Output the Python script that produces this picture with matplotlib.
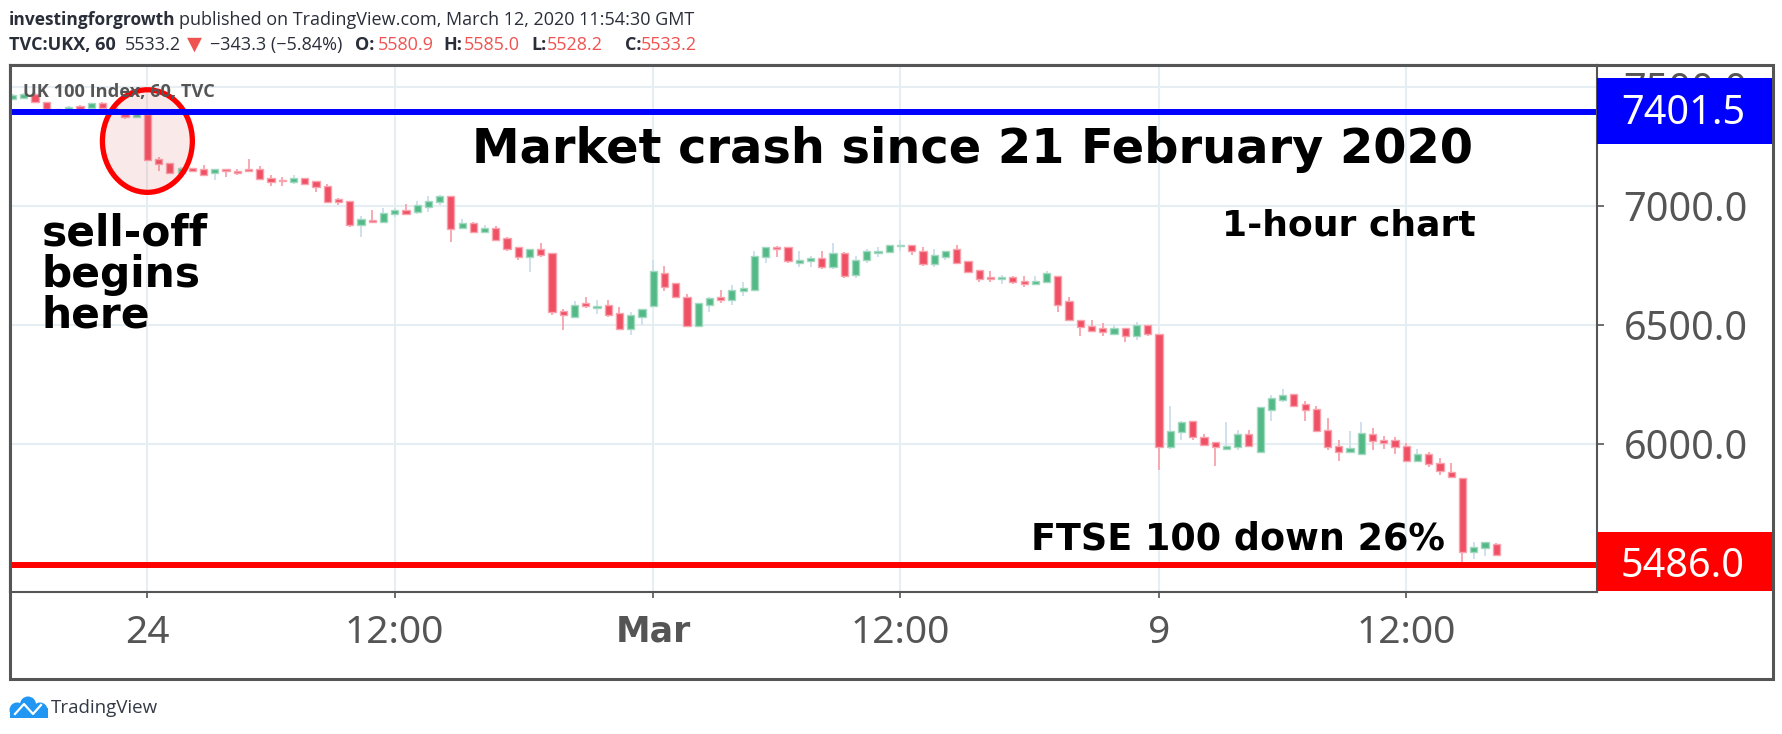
import matplotlib
matplotlib.use("Agg")
import matplotlib.pyplot as plt
from matplotlib.patches import Ellipse, Rectangle, Circle
import numpy as np

# ---- hourly candles, oldest first ----
opens = [7450,7455,7471,7436,7405,7405,7419,7410,7433,7410,
         7384,7374,7384,7196,7178,7137,7158,7154,7136,7154,
         7147,7154,7153,7116,7109,7098,7116,7104,7084,7028,
         7021,6920,6940,6934,6965,6983,6972,6997,7015,7041,
         6908,6927,6889,6908,6863,6825,6786,6818,6800,6560,
         6534,6591,6571,6585,6548,6483,6534,6578,6717,6674,
         6616,6496,6584,6616,6604,6641,6647,6786,6825,6825,
         6760,6767,6780,6742,6800,6710,6773,6800,6807,6832,
         6837,6812,6755,6786,6818,6767,6730,6699,6692,6699,
         6686,6672,6679,6704,6598,6522,6494,6486,6463,6486,
         6451,6500,6461,5985,6048,6097,6028,6008,5978,5985,
         6041,5964,6141,6185,6209,6167,6147,6059,5990,5965,
         5959,6041,6015,6015,5990,5927,5958,5920,5882,5856,5544,5562,5580.9]
highs = [7470,7472,7475,7438,7408,7418,7424,7433,7436,7412,
         7395,7388,7384,7204,7181,7165,7160,7172,7154,7154,
         7154,7197,7167,7129,7122,7129,7116,7104,7091,7034,
         7021,6958,6983,6990,6990,7008,7021,7041,7046,7041,
         6945,6931,6919,6915,6868,6825,6818,6843,6800,6566,
         6598,6616,6604,6604,6573,6553,6566,6774,6749,6674,
         6629,6590,6616,6648,6667,6679,6812,6825,6830,6825,
         6812,6787,6812,6843,6805,6787,6818,6825,6837,6856,
         6837,6825,6818,6812,6837,6767,6730,6724,6711,6704,
         6704,6704,6724,6704,6616,6522,6519,6507,6500,6486,
         6512,6500,6461,6160,6097,6097,6041,6008,6091,6057,
         6057,6154,6204,6230,6209,6179,6158,6109,6015,6053,
         6091,6066,6034,6028,6003,5978,5965,5940,5920,5856,5587,5587,5585.0]
lows = [7448,7453,7435,7380,7380,7403,7405,7408,7408,7392,
        7363,7372,7188,7148,7134,7135,7146,7129,7109,7123,
        7129,7147,7109,7085,7085,7091,7088,7060,7011,7003,
        6913,6870,6933,6933,6951,6964,6965,6976,7003,6846,
        6901,6887,6887,6857,6812,6773,6723,6786,6541,6478,
        6534,6571,6546,6534,6478,6458,6501,6573,6641,6616,
        6496,6496,6553,6591,6584,6623,6647,6760,6786,6760,
        6742,6742,6735,6735,6697,6697,6760,6786,6800,6812,
        6793,6748,6742,6773,6760,6717,6679,6679,6672,6672,
        6660,6667,6679,6553,6521,6454,6476,6455,6456,6426,
        6438,6455,5889,5978,6015,6015,5996,5908,5976,5972,
        5989,5961,6097,6174,6160,6097,6052,5976,5926,5964,
        5958,5972,5978,5959,5926,5923,5902,5871,5859,5495,5518,5530,5528.2]
closes = [7466,7468,7437,7405,7400,7416,7408,7430,7410,7395,
          7373,7384,7192,7174,7136,7158,7148,7129,7154,7148,
          7136,7148,7111,7098,7104,7116,7091,7078,7014,7015,
          6920,6945,6934,6969,6983,6965,7003,7020,7041,6902,
          6927,6889,6908,6857,6818,6786,6818,6793,6553,6541,
          6585,6578,6578,6541,6483,6541,6566,6724,6660,6616,
          6496,6590,6611,6604,6648,6654,6787,6825,6818,6767,
          6774,6780,6742,6800,6704,6774,6812,6812,6837,6837,
          6812,6755,6793,6812,6760,6723,6692,6692,6699,6679,
          6672,6686,6717,6584,6521,6489,6476,6469,6486,6451,
          6500,6462,5985,6053,6091,6027,5997,5985,5990,6041,
          5990,6154,6192,6204,6160,6141,6053,5985,5965,5983,
          6046,6010,6003,5985,5927,5958,5915,5884,5859,5544,5567,5587,5533.2]

price_ticks = [7500, 7000, 6500, 6000, 5500]
price_labels = ["7500.0", "7000.0", "6500.0", "6000.0", "5500.0"]
time_ticks = [12, 34, 57, 79, 102, 124]          # candle numbers
time_labels = ["24", "12:00", "Mar", "12:00", "9", "12:00"]
high_line, low_line = 7394, 5492                 # hand-drawn levels as placed
high_tag, low_tag = "7401.5", "5486.0"

W, H = 1783, 734
GREY = "#555555"
GRID = "#e6eef4"
UP, DOWN = "#53b987", "#ef5064"
UP_EDGE, DOWN_EDGE = "#a3d9c0", "#f8a3ad"
UP_WICK, DOWN_WICK = "#cfe0ee", "#f7aab3"
SANS = "Open Sans"

fig = plt.figure(figsize=(W/100, H/100), dpi=100, facecolor="white")
ax = fig.add_axes([10/W, 1-592/H, (1597-10)/W, (592-65)/H])
ax.set_xlim(-0.224, 140.97)
ax.set_ylim(5377.3, 7591.6)

ax.set_yticks(price_ticks, price_labels, fontsize=28.5, color=GREY, family="Noto Sans")
ax.yaxis.tick_right()
ax.set_xticks(time_ticks, time_labels, fontsize=28, color=GREY, family="Noto Sans")
ax.get_xticklabels()[2].set_family("DejaVu Sans")
ax.get_xticklabels()[2].set_fontweight("bold")
ax.get_xticklabels()[2].set_fontsize(25)
ax.tick_params(axis="y", length=5, width=1.2, color=GREY, pad=14)
ax.tick_params(axis="x", length=4, width=1.2, color=GREY, pad=12)
ax.grid(True, color=GRID, lw=1.5)
ax.set_axisbelow(True)
for s in ax.spines.values():
    s.set_color(GREY)
    s.set_linewidth(1.5)

x = np.arange(len(opens))
o, h, l, c = map(np.array, (opens, highs, lows, closes))
up = c >= o
ax.vlines(x, l, h, colors=np.where(up, UP_WICK, DOWN_WICK), lw=1.4, zorder=2)
ax.bar(x, np.abs(c-o), bottom=np.minimum(o, c), width=0.64,
       color=np.where(up, UP, DOWN), edgecolor=np.where(up, UP_EDGE, DOWN_EDGE),
       lw=1.0, zorder=3)

ax.add_patch(Ellipse((102-90, 7272), 8.0, 431, facecolor=(0.85, 0.35, 0.35, 0.13),
                     edgecolor="#ff0000", lw=3.8, zorder=4))
ax.axhline(high_line, xmax=0.9975, color="#0000ff", lw=4.3, zorder=5)
ax.axhline(low_line, xmax=0.9975, color="#ff0000", lw=4.3, zorder=5)

bold = dict(family="DejaVu Sans", fontweight="bold", color="black", zorder=6)
# overlay in pixel coordinates for page furniture
ov = fig.add_axes([0, 0, 1, 1], zorder=5)
ov.set_xlim(0, W)
ov.set_ylim(H, 0)
ov.axis("off")
ov.patch.set_alpha(0)

ov.add_patch(Rectangle((10, 65), 1763, 614, fill=False, ec=GREY, lw=2.2))
ov.add_patch(Rectangle((1597, 78), 175, 66, fc="#0000ff", ec="none"))
ov.add_patch(Rectangle((1597, 532), 175, 59, fc="#ff0000", ec="none"))
tag = dict(color="white", fontsize=28.5, family="Noto Sans", ha="left", va="center_baseline")
ov.text(1621, 109, high_tag, **tag)
ov.text(1621, 562, low_tag, **tag)

ov.text(472, 163, "Market crash since 21 February 2020", fontsize=34.45, va="baseline", **bold)
ov.text(1222, 235, "1-hour chart", fontsize=26, va="baseline", **bold)
ov.text(1031, 550, "FTSE 100 down 26%", fontsize=26.3, va="baseline", **bold)
ov.text(42, 245, "sell-off", fontsize=30.5, va="baseline", **bold)
ov.text(42, 287, "begins", fontsize=30.5, va="baseline", **bold)
ov.text(42, 328, "here", fontsize=30.5, va="baseline", **bold)
ov.text(23, 97, "UK 100 Index, 60, TVC", fontsize=13.15, family=SANS, fontweight="bold",
        color=GREY, va="baseline")

# header
DARK = "#2a2e39"
RED = "#ef5350"
hdr = dict(family=SANS, va="baseline")
ov.text(9, 25, "investingforgrowth", color=DARK, fontweight="bold", fontsize=12.5, **hdr)
ov.text(179, 25, "published on TradingView.com, March 12, 2020 11:54:30 GMT", color=DARK, fontsize=13, **hdr)
segments = [(9, "TVC:UKX, 60", DARK, "bold"), (125, "5533.2", DARK, "normal"),
            (210, "\u2212343.3 (\u22125.84%)", DARK, "normal"),
            (355, "O:", DARK, "bold"), (378, "5580.9", RED, "normal"),
            (443, "H:", DARK, "bold"), (464, "5585.0", RED, "normal"),
            (531, "L:", DARK, "bold"), (547, "5528.2", RED, "normal"),
            (625, "C:", DARK, "bold"), (641, "5533.2", RED, "normal")]
for px, s, col, w in segments:
    ov.text(px, 50, s, color=col, fontweight=w, fontsize=13, **hdr)
ov.text(187, 50, "\u25BC", color=RED, fontsize=14, family="DejaVu Sans", va="baseline")

# logo
LOGO = "#2196f3"
for cx, cy, r in [(17, 710, 7.5), (28, 704.5, 8), (40, 710, 7.5)]:
    ov.add_patch(Circle((cx, cy), r, fc=LOGO, ec="none"))
ov.add_patch(Rectangle((10, 708), 38, 10, fc=LOGO, ec="none"))
ov.plot([15, 24, 33, 41], [714, 704, 714, 705], color="white", lw=1.6)
ov.text(51, 713, "TradingView", fontsize=13.5, family=SANS, color="#333a45", va="baseline")

fig.savefig("out.png", dpi=100, facecolor="white")
